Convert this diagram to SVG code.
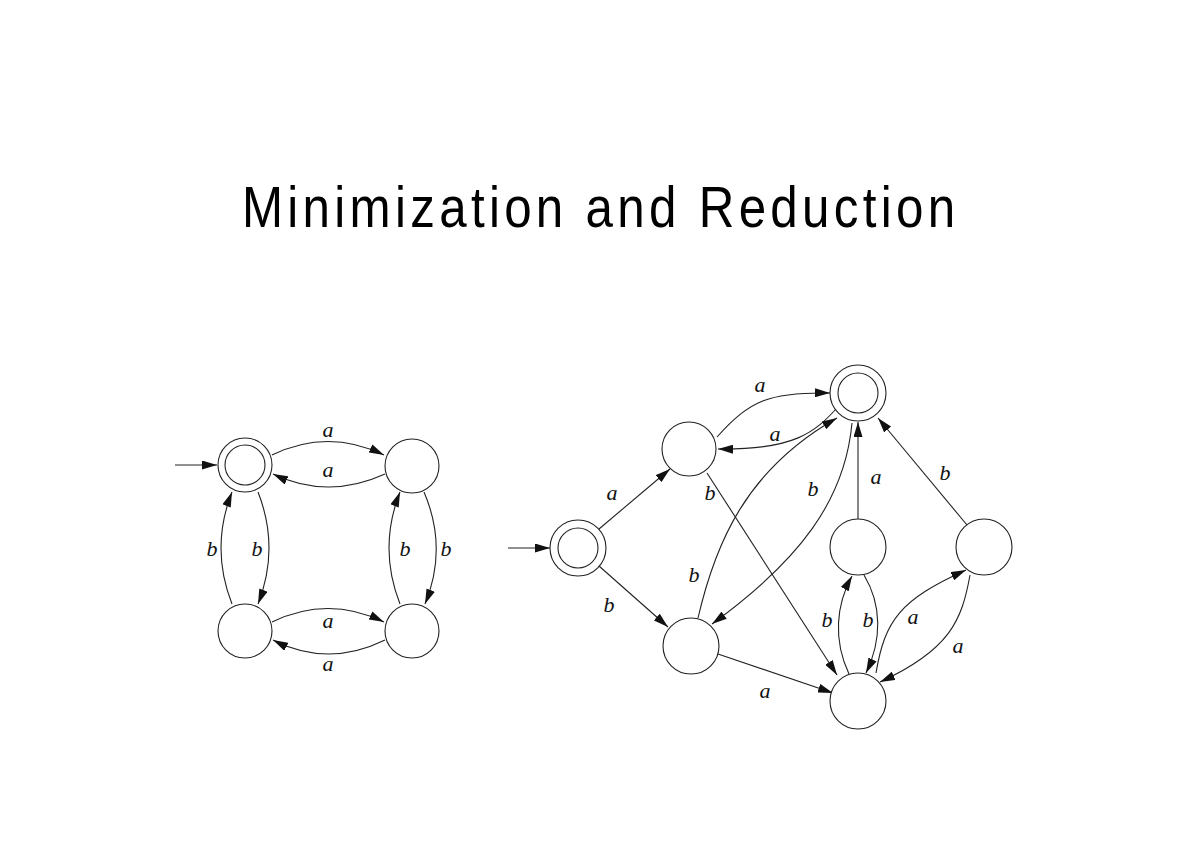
<svg xmlns="http://www.w3.org/2000/svg" width="1200" height="848" viewBox="0 0 1200 848">
<style>
.st{fill:#fff;stroke:#222;stroke-width:1.1}
.e{fill:none;stroke:#222;stroke-width:1.1;marker-end:url(#ah)}
.l{font-family:"Liberation Serif",serif;font-style:italic;font-size:22px;fill:#111;text-anchor:middle}
.t{font-family:"Liberation Sans",Arial,sans-serif;font-size:58px;fill:#000}
</style>
<defs>
<marker id="ah" viewBox="0 0 15 9" refX="15" refY="4.5" markerWidth="15" markerHeight="9" markerUnits="userSpaceOnUse" orient="auto">
<path d="M0,0 L15,4.5 L0,9 z" fill="#111"/>
</marker>
</defs>
<rect width="1200" height="848" fill="#fff"/>
<text class="t" transform="translate(242,227) scale(0.85,1)" x="0" y="0" textLength="839" lengthAdjust="spacing">Minimization and Reduction</text>

<g id="connectors">
<path class="e" d="M175,465 L217,465"/>
<path class="e" d="M272,455 Q328,428 384,455"/>
<path class="e" d="M385,474 Q328,500 273,474"/>
<path class="e" d="M258,492 Q280,548 258,604"/>
<path class="e" d="M232,604 Q210,548 232,492"/>
<path class="e" d="M424,492 Q448,548 425,604"/>
<path class="e" d="M400,604 Q378,548 400,492"/>
<path class="e" d="M272,622 Q328,595 384,622"/>
<path class="e" d="M385,640 Q328,668 273,640"/>

<path class="e" d="M508,548 L550,548"/>
<path class="e" d="M599,529 L670,469"/>
<path class="e" d="M599,566 L668,627"/>
<path class="e" d="M717,437 C750,400 770,392 830,393"/>
<path class="e" d="M837,408 C815,432 795,450 718,449"/>
<path class="e" d="M707,473 L837,675"/>
<path class="e" d="M698,618 C715,545 745,470 837,418"/>
<path class="e" d="M852,423 C845,500 800,560 712,624"/>
<path class="e" d="M858,520 L858,422"/>
<path class="e" d="M967,525 L878,418"/>
<path class="e" d="M718,654 L833,693"/>
<path class="e" d="M849,674 C833,640 836,605 852,576"/>
<path class="e" d="M864,575 C882,605 882,640 866,673"/>
<path class="e" d="M876,673 C885,620 900,600 966,570"/>
<path class="e" d="M970,575 C962,620 950,650 880,682"/>
</g>

<g id="labels">
<text class="l" x="328" y="437">a</text>
<text class="l" x="328" y="477">a</text>
<text class="l" x="212" y="556">b</text>
<text class="l" x="257" y="556">b</text>
<text class="l" x="405" y="556">b</text>
<text class="l" x="446" y="556">b</text>
<text class="l" x="328" y="628">a</text>
<text class="l" x="328" y="671">a</text>

<text class="l" x="760" y="392">a</text>
<text class="l" x="775" y="441">a</text>
<text class="l" x="612" y="500">a</text>
<text class="l" x="710" y="500">b</text>
<text class="l" x="813" y="496">b</text>
<text class="l" x="876" y="484">a</text>
<text class="l" x="945" y="480">b</text>
<text class="l" x="609" y="612">b</text>
<text class="l" x="694" y="582">b</text>
<text class="l" x="827" y="627">b</text>
<text class="l" x="868" y="627">b</text>
<text class="l" x="913" y="624">a</text>
<text class="l" x="958" y="653">a</text>
<text class="l" x="765" y="698">a</text>
</g>

<g id="L_A"><circle class="st" cx="245" cy="465" r="27"/><circle class="st" cx="245" cy="465" r="20"/></g>
<g id="L_B"><circle class="st" cx="412" cy="466" r="27"/></g>
<g id="L_C"><circle class="st" cx="245" cy="631" r="27"/></g>
<g id="L_D"><circle class="st" cx="412" cy="631" r="27"/></g>

<g id="R_S"><circle class="st" cx="578" cy="548" r="28"/><circle class="st" cx="578" cy="548" r="20"/></g>
<g id="R_N1"><circle class="st" cx="689" cy="449" r="27"/></g>
<g id="R_F"><circle class="st" cx="858" cy="393" r="28"/><circle class="st" cx="858" cy="393" r="20"/></g>
<g id="R_N3"><circle class="st" cx="858" cy="547" r="28"/></g>
<g id="R_N4"><circle class="st" cx="984" cy="547" r="28"/></g>
<g id="R_N5"><circle class="st" cx="691" cy="646" r="28"/></g>
<g id="R_N6"><circle class="st" cx="858" cy="701" r="28"/></g>
</svg>
